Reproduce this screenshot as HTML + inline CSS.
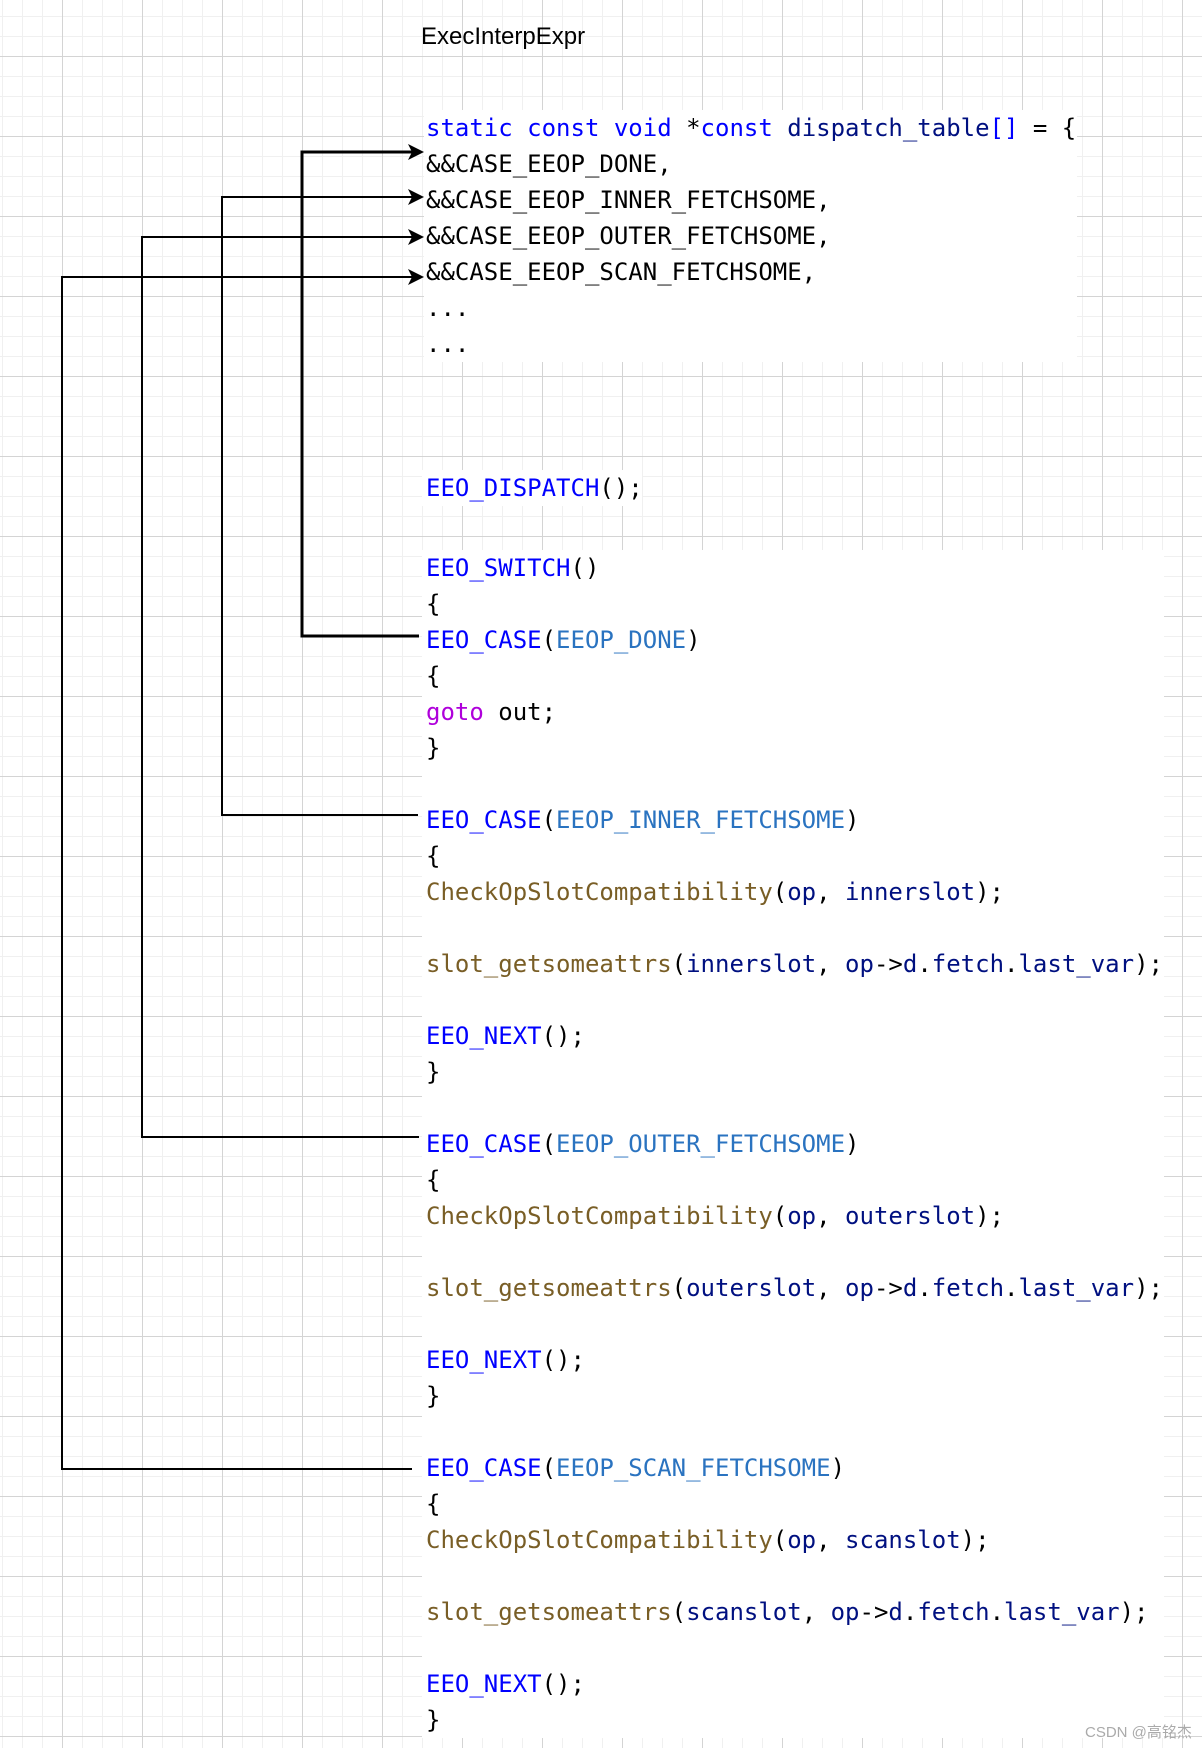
<!DOCTYPE html>
<html><head><meta charset="utf-8"><style>
html,body{margin:0;padding:0}
body{width:1202px;height:1748px;position:relative;overflow:hidden;background-color:#fff;
background-image:
linear-gradient(to right,#d4d4d4 1px,transparent 1px),
linear-gradient(to bottom,#d4d4d4 1px,transparent 1px),
linear-gradient(to right,#f0f0f0 1px,transparent 1px),
linear-gradient(to bottom,#f0f0f0 1px,transparent 1px);
background-size:80px 80px,80px 80px,20px 20px,20px 20px;
background-position:62px 0,0 56px,2px 0,0 16px;}
.box{position:absolute;background:#fff}
.code{position:absolute;left:426px;font-family:"DejaVu Sans Mono","Liberation Mono",monospace;font-size:24px;line-height:36px;white-space:pre;color:#000}
.k{color:#0000ff}.v{color:#001080}.c{color:#2a73c0}.f{color:#795e26}.p{color:#af00db}
.title{position:absolute;left:421px;top:23px;font-family:"Liberation Sans",Arial,sans-serif;font-size:24px;color:#000}
svg{position:absolute;left:0;top:0}
.wm{position:absolute;left:1085px;top:1721px;font-family:"Liberation Sans","Noto Sans CJK SC",sans-serif;font-size:15px;color:#aaa}
</style></head><body>
<div class="title">ExecInterpExpr</div>
<div class="box" style="left:424px;top:110px;width:653px;height:252px"></div>
<div class="box" style="left:422px;top:470px;width:220px;height:36px"></div>
<div class="box" style="left:422px;top:550px;width:742px;height:1188px"></div>
<div class="code" style="top:110px"><span class="k">static const void</span> *<span class="k">const</span> <span class="v">dispatch_table</span><span class="k">[]</span> = {
&amp;&amp;CASE_EEOP_DONE,
&amp;&amp;CASE_EEOP_INNER_FETCHSOME,
&amp;&amp;CASE_EEOP_OUTER_FETCHSOME,
&amp;&amp;CASE_EEOP_SCAN_FETCHSOME,
...
...</div>
<div class="code" style="top:470px"><span class="k">EEO_DISPATCH</span>();</div>
<div class="code" style="top:550px"><span class="k">EEO_SWITCH</span>()
{
<span class="k">EEO_CASE</span>(<span class="c">EEOP_DONE</span>)
{
<span class="p">goto</span> out;
}

<span class="k">EEO_CASE</span>(<span class="c">EEOP_INNER_FETCHSOME</span>)
{
<span class="f">CheckOpSlotCompatibility</span>(<span class="v">op</span>, <span class="v">innerslot</span>);

<span class="f">slot_getsomeattrs</span>(<span class="v">innerslot</span>, <span class="v">op</span>-&gt;<span class="v">d</span>.<span class="v">fetch</span>.<span class="v">last_var</span>);

<span class="k">EEO_NEXT</span>();
}

<span class="k">EEO_CASE</span>(<span class="c">EEOP_OUTER_FETCHSOME</span>)
{
<span class="f">CheckOpSlotCompatibility</span>(<span class="v">op</span>, <span class="v">outerslot</span>);

<span class="f">slot_getsomeattrs</span>(<span class="v">outerslot</span>, <span class="v">op</span>-&gt;<span class="v">d</span>.<span class="v">fetch</span>.<span class="v">last_var</span>);

<span class="k">EEO_NEXT</span>();
}

<span class="k">EEO_CASE</span>(<span class="c">EEOP_SCAN_FETCHSOME</span>)
{
<span class="f">CheckOpSlotCompatibility</span>(<span class="v">op</span>, <span class="v">scanslot</span>);

<span class="f">slot_getsomeattrs</span>(<span class="v">scanslot</span>, <span class="v">op</span>-&gt;<span class="v">d</span>.<span class="v">fetch</span>.<span class="v">last_var</span>);

<span class="k">EEO_NEXT</span>();
}</div>
<svg width="1202" height="1748" viewBox="0 0 1202 1748">
<g fill="none" stroke="#000" stroke-width="2">
<polyline points="419,636 302,636 302,152 414,152" stroke-width="3"/>
<polyline points="418,815 222,815 222,197 414,197"/>
<polyline points="419,1137 142,1137 142,237 414,237"/>
<polyline points="412,1469 62,1469 62,277 414,277"/>
</g>
<g fill="#000">
<polygon points="424,152 408,144 412,152 408,160"/>
<polygon points="424,197 408,189 412,197 408,205"/>
<polygon points="424,237 408,229 412,237 408,245"/>
<polygon points="424,277 408,269 412,277 408,285"/>
</g>
</svg>
<div class="wm">CSDN @高铭杰</div>
</body></html>
